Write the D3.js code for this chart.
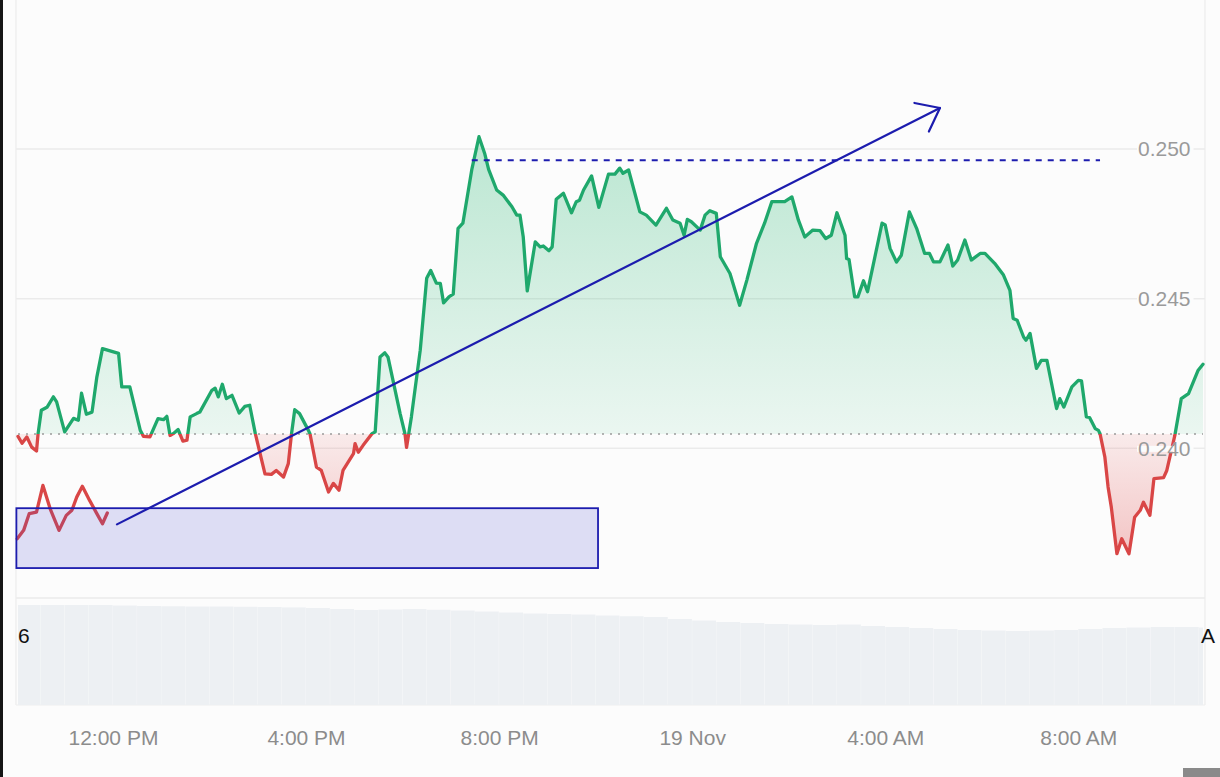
<!DOCTYPE html>
<html><head><meta charset="utf-8">
<script src="https://cdn.jsdelivr.net/npm/d3@7"></script>
<style>
html,body{margin:0;padding:0;background:#fcfcfc;overflow:hidden}
svg{display:block}
text{font-family:"Liberation Sans",Arial,Helvetica,sans-serif}
</style></head><body>
<svg id="chart" width="1220" height="777"></svg>
<script>
// ---- data (minutes after 18 Nov 10:00) ----
const priceMinutes = [2,7,13,19,25,27,31,38,46,50,60,71,77,81,87,94,100,107,127,131,141,154,158,166,176,183,187,191,195,201,207,212,216,224,228,243,247,251,256,261,268,277,284,290,297,309,317,323,332,338,342,346,352,363,365,373,379,388,394,401,406,419,421,425,431,442,446,452,458,462,477,483,485,491,502,510,515,522,527,531,538,543,549,555,566,575,582,587,597,605,616,622,626,630,635,645,651,655,662,666,671,680,690,696,700,705,715,724,736,744,750,754,761,775,783,795,808,816,825,830,834,839,850,856,862,870,875,887,899,908,920,930,939,955,964,972,980,990,999,1006,1013,1020,1030,1032,1035,1042,1046,1053,1058,1076,1080,1086,1094,1100,1110,1119,1129,1135,1140,1148,1158,1164,1170,1179,1187,1198,1204,1216,1227,1235,1239,1244,1252,1255,1260,1268,1274,1281,1293,1297,1302,1312,1320,1324,1330,1334,1341,1345,1347,1353,1357,1361,1368,1374,1383,1390,1397,1401,1409,1414,1426,1430,1440,1448,1457,1463,1469,1475];
const priceValues = [0.24040,0.24017,0.24038,0.24004,0.23991,0.24050,0.24127,0.24137,0.24172,0.24155,0.24055,0.24100,0.24094,0.24184,0.24114,0.24121,0.24238,0.24333,0.24317,0.24205,0.24205,0.24060,0.24040,0.24038,0.24099,0.24096,0.24107,0.24043,0.24049,0.24063,0.24024,0.24027,0.24105,0.24116,0.24121,0.24194,0.24201,0.24172,0.24214,0.24166,0.24177,0.24118,0.24140,0.24144,0.24049,0.23915,0.23913,0.23926,0.23904,0.23949,0.24049,0.24129,0.24116,0.24060,0.24048,0.23937,0.23926,0.23854,0.23883,0.23860,0.23926,0.23982,0.24016,0.23987,0.24010,0.24049,0.24055,0.24305,0.24319,0.24304,0.24116,0.24049,0.24003,0.24105,0.24328,0.24568,0.24594,0.24552,0.24551,0.24486,0.24507,0.24515,0.24735,0.24752,0.24930,0.25041,0.24986,0.24932,0.24863,0.24846,0.24807,0.24779,0.24779,0.24707,0.24526,0.24690,0.24673,0.24676,0.24660,0.24673,0.24832,0.24852,0.24787,0.24824,0.24829,0.24863,0.24910,0.24805,0.24916,0.24916,0.24936,0.24919,0.24930,0.24790,0.24779,0.24746,0.24802,0.24763,0.24752,0.24712,0.24765,0.24757,0.24729,0.24779,0.24794,0.24785,0.24640,0.24584,0.24478,0.24562,0.24685,0.24752,0.24824,0.24824,0.24840,0.24763,0.24706,0.24729,0.24727,0.24701,0.24712,0.24787,0.24712,0.24634,0.24631,0.24506,0.24506,0.24560,0.24523,0.24752,0.24746,0.24668,0.24622,0.24645,0.24790,0.24735,0.24651,0.24651,0.24623,0.24623,0.24679,0.24609,0.24629,0.24696,0.24629,0.24651,0.24651,0.24618,0.24579,0.24528,0.24434,0.24428,0.24372,0.24361,0.24384,0.24267,0.24294,0.24294,0.24133,0.24166,0.24138,0.24205,0.24227,0.24225,0.24105,0.24103,0.24066,0.24060,0.24049,0.23971,0.23871,0.23804,0.23648,0.23698,0.23648,0.23770,0.23793,0.23820,0.23776,0.23899,0.23902,0.23926,0.24043,0.24166,0.24183,0.24222,0.24261,0.24281];
const baselinePrice = 0.24048;

const sketchMinutes = [1,9,16,25,33,42,53,62,69,75,82,91,100,107,113];
const sketchValues = [0.23698,0.23726,0.23782,0.23787,0.23876,0.23798,0.23726,0.23776,0.23793,0.23837,0.23873,0.23826,0.23782,0.23748,0.23784];

// volume, one value every 30 minutes from 10:00
const volumeValues = [100,100,100,100,99.5,99,98.7,98.5,98.5,98.2,98,97.6,97,96,95,95.5,96,95.2,94.5,93.5,92.5,91.5,91,90.5,89.5,88.8,88,86,84.5,83,82,81,80.5,80,80.5,79,78,77,76,75,74.5,74,74.5,75,76,77,77.5,78,78,77.5];

const gridPrices = [0.235,0.240,0.245,0.250];
const yTickValues = [0.240,0.245,0.250];
const xTickMinutes = [120,360,600,840,1080,1320];
const xTickLabels = ["12:00 PM","4:00 PM","8:00 PM","19 Nov","4:00 AM","8:00 AM"];

// annotations (minutes, price)
const zoneMinutes = [0,723];
const zonePrices = [0.2360,0.2380];
const trendMinutes = [125,1148];
const trendPrices = [0.23746,0.25137];
const levelMinutes = [566,1347];
const levelPrice = 0.24962;

// ---- scales ----
const W = 1220, H = 777;
const t0 = new Date(2023,10,18,10,0);
const at = m => new Date(t0.getTime() + m*60000);
const x = d3.scaleTime().domain([at(2), at(1475)]).range([18,1203]);
const y = d3.scaleLinear().domain([0.235,0.250]).range([598,149]);
const yVol = d3.scaleLinear().domain([0,100]).range([705,605]);

const svg = d3.select("#chart");
svg.append("rect").attr("width",W).attr("height",H).attr("fill","#fcfcfc");

const GREEN = "#1fa86c", RED = "#d94646", BLUE = "#1c1cae";

const defs = svg.append("defs");
const gGrad = defs.append("linearGradient").attr("id","gGrad").attr("gradientUnits","userSpaceOnUse")
  .attr("x1",0).attr("x2",0).attr("y1",y(0.2505)).attr("y2",y(baselinePrice));
gGrad.append("stop").attr("offset",0).attr("stop-color","#22b46e").attr("stop-opacity",0.30);
gGrad.append("stop").attr("offset",1).attr("stop-color","#22b46e").attr("stop-opacity",0.08);
const rGrad = defs.append("linearGradient").attr("id","rGrad").attr("gradientUnits","userSpaceOnUse")
  .attr("x1",0).attr("x2",0).attr("y1",y(baselinePrice)).attr("y2",y(0.2365));
rGrad.append("stop").attr("offset",0).attr("stop-color","#e05050").attr("stop-opacity",0.10);
rGrad.append("stop").attr("offset",1).attr("stop-color","#e05050").attr("stop-opacity",0.32);

defs.append("clipPath").attr("id","above").append("rect")
  .attr("x",0).attr("y",0).attr("width",W).attr("height",y(baselinePrice));
defs.append("clipPath").attr("id","below").append("rect")
  .attr("x",0).attr("y",y(baselinePrice)).attr("width",W).attr("height",H);
defs.append("clipPath").attr("id","plotX").append("rect")
  .attr("x",x(at(2))).attr("y",0).attr("width",x(at(1475))-x(at(2))).attr("height",H);

// ---- grid and frame ----
const xl = 16, xr = 1205;
svg.append("g").selectAll("line").data(gridPrices).join("line")
  .attr("x1",xl).attr("x2",xr).attr("y1",d=>y(d)).attr("y2",d=>y(d))
  .attr("stroke","#ebebeb").attr("stroke-width",1.5);
svg.append("line").attr("x1",xl).attr("x2",xl).attr("y1",0).attr("y2",yVol(0)).attr("stroke","#ececec").attr("stroke-width",1.2);
svg.append("line").attr("x1",xr).attr("x2",xr).attr("y1",0).attr("y2",yVol(0)).attr("stroke","#ececec").attr("stroke-width",1.2);
svg.append("line").attr("x1",xl).attr("x2",xr).attr("y1",yVol(0)).attr("y2",yVol(0)).attr("stroke","#eeeeee").attr("stroke-width",1);

// ---- volume ----
svg.append("g").attr("clip-path","url(#plotX)").selectAll("rect").data(volumeValues).join("rect")
  .attr("x",(d,i)=>x(at(i*30)))
  .attr("width",(d,i)=>x(at((i+1)*30))-x(at(i*30))-0.25)
  .attr("y",d=>yVol(d)).attr("height",d=>yVol(0)-yVol(d))
  .attr("fill","#edf0f3");

// ---- price area + line ----
const pts = priceMinutes.map((m,i)=>({t:at(m), v:priceValues[i]}));
const area = d3.area().x(d=>x(d.t)).y0(y(baselinePrice)).y1(d=>y(d.v));
const line = d3.line().x(d=>x(d.t)).y(d=>y(d.v));
svg.append("path").datum(pts).attr("d",area).attr("fill","url(#gGrad)").attr("clip-path","url(#above)");
svg.append("path").datum(pts).attr("d",area).attr("fill","url(#rGrad)").attr("clip-path","url(#below)");

svg.append("line").attr("x1",x(at(2))).attr("x2",x(at(1475)))
  .attr("y1",y(baselinePrice)).attr("y2",y(baselinePrice))
  .attr("stroke","#9a9a9a").attr("stroke-width",1.4).attr("stroke-dasharray","2,6");

svg.append("path").datum(pts).attr("d",line).attr("fill","none").attr("stroke",GREEN)
  .attr("stroke-width",3.3).attr("stroke-linejoin","round").attr("stroke-linecap","round").attr("clip-path","url(#above)");
svg.append("path").datum(pts).attr("d",line).attr("fill","none").attr("stroke",RED)
  .attr("stroke-width",3.3).attr("stroke-linejoin","round").attr("stroke-linecap","round").attr("clip-path","url(#below)");

// sketch line (red) near the zone
const sk = sketchMinutes.map((m,i)=>({t:at(m), v:sketchValues[i]}));
svg.append("path").datum(sk).attr("d",line).attr("fill","none").attr("stroke",RED)
  .attr("stroke-width",3.3).attr("stroke-linejoin","round").attr("stroke-linecap","round");

// ---- annotations ----
svg.append("rect")
  .attr("x",x(at(zoneMinutes[0]))).attr("y",y(zonePrices[1]))
  .attr("width",x(at(zoneMinutes[1]))-x(at(zoneMinutes[0])))
  .attr("height",y(zonePrices[0])-y(zonePrices[1]))
  .attr("fill","rgba(70,70,210,0.17)").attr("stroke",BLUE).attr("stroke-width",1.8);

svg.append("line").attr("x1",x(at(levelMinutes[0]))).attr("x2",x(at(levelMinutes[1])))
  .attr("y1",y(levelPrice)).attr("y2",y(levelPrice))
  .attr("stroke",BLUE).attr("stroke-width",2).attr("stroke-dasharray","6,6");

const p1 = [x(at(trendMinutes[0])), y(trendPrices[0])];
const p2 = [x(at(trendMinutes[1])), y(trendPrices[1])];
svg.append("line").attr("x1",p1[0]).attr("y1",p1[1]).attr("x2",p2[0]).attr("y2",p2[1])
  .attr("stroke",BLUE).attr("stroke-width",2.2).attr("stroke-linecap","round");
const ang = Math.atan2(p1[1]-p2[1], p1[0]-p2[0]);
const wl = 26, wa = 38*Math.PI/180;
const w1 = [p2[0]+wl*Math.cos(ang+wa), p2[1]+wl*Math.sin(ang+wa)];
const w2 = [p2[0]+wl*Math.cos(ang-wa), p2[1]+wl*Math.sin(ang-wa)];
svg.append("path").attr("d",`M${w1}L${p2}L${w2}`).attr("fill","none")
  .attr("stroke",BLUE).attr("stroke-width",2.2).attr("stroke-linecap","round").attr("stroke-linejoin","round");

// ---- axes ----
const xAxis = d3.axisBottom(x).tickValues(xTickMinutes.map(at))
  .tickFormat((d,i)=>xTickLabels[i]).tickSize(0).tickPadding(25);
const gx = svg.append("g").attr("transform",`translate(0,${yVol(0)})`).call(xAxis);
gx.select(".domain").remove();
gx.selectAll("text").attr("font-size",21).attr("fill","#8c8c8c")
  .attr("font-family","Liberation Sans, Arial, sans-serif");

const yAxis = d3.axisRight(y).tickValues(yTickValues).tickFormat(d3.format(".3f")).tickSize(0).tickPadding(0);
const gy = svg.append("g").attr("transform","translate(1138,0)").call(yAxis);
gy.select(".domain").remove();
gy.selectAll("text").attr("font-size",21).attr("fill","#9a9a9a")
  .attr("font-family","Liberation Sans, Arial, sans-serif");
gy.selectAll(".tick").each(function(){
  const tk = d3.select(this);
  const bb = tk.select("text").node().getBBox();
  tk.insert("rect","text").attr("x",bb.x-1).attr("y",-3).attr("width",bb.width+4).attr("height",6).attr("fill","#fcfcfc");
});

// ---- screenshot edge details ----
svg.append("text").attr("x",18).attr("y",643).attr("font-size",21).attr("fill","#111").text("6");
svg.append("text").attr("x",1201).attr("y",643).attr("font-size",21).attr("fill","#111").text("A");
svg.append("rect").attr("x",0).attr("y",0).attr("width",3).attr("height",H).attr("fill","#151515");
svg.append("rect").attr("x",1183).attr("y",768).attr("width",37).attr("height",9).attr("fill","#8a8a8a");
</script>
</body></html>
